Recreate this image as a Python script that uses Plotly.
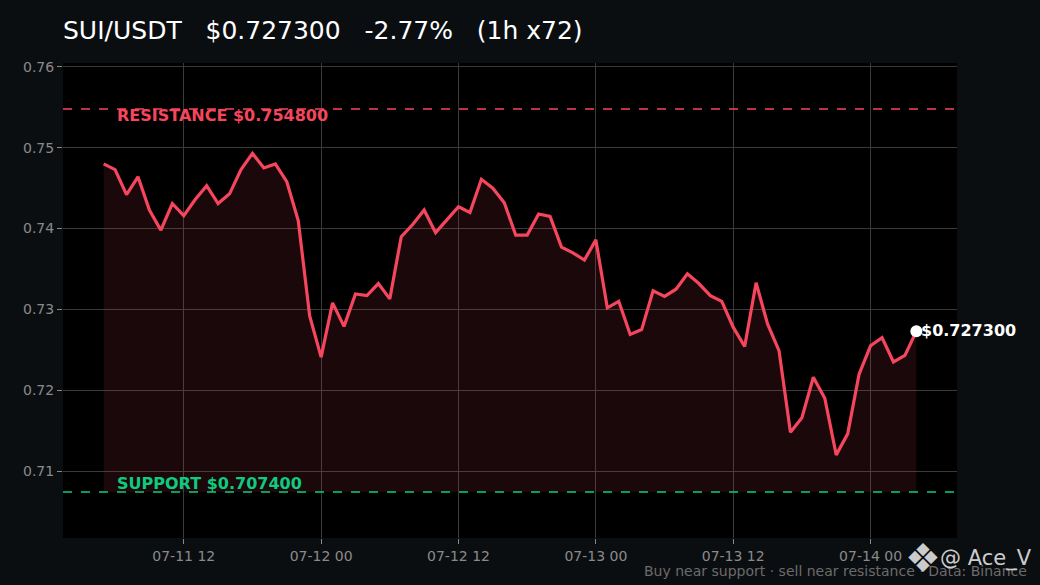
import plotly.graph_objects as go
import pandas as pd

# ---- data ----
symbol = "SUI/USDT"
interval = "1h"
start_time = "2025-07-11 05:00"
prices = [
    0.7480, 0.7473, 0.7442, 0.7464, 0.7423, 0.7398, 0.7431, 0.7416, 0.7436, 0.7453,
    0.7431, 0.7443, 0.7473, 0.7493, 0.7475, 0.7480, 0.7458, 0.7410, 0.7292, 0.7241,
    0.7308, 0.7279, 0.7319, 0.7317, 0.7332, 0.7313, 0.7390, 0.7405, 0.7423, 0.7395,
    0.7411, 0.7427, 0.7420, 0.7461, 0.7450, 0.7432, 0.7392, 0.7392, 0.7418, 0.7415,
    0.7377, 0.7370, 0.7361, 0.7386, 0.7302, 0.7310, 0.7269, 0.7275, 0.7323, 0.7316,
    0.7325, 0.7344, 0.7332, 0.7317, 0.7310, 0.7278, 0.7254, 0.7333, 0.7282, 0.7249,
    0.7148, 0.7166, 0.7216, 0.7190, 0.7120, 0.7146, 0.7220, 0.7255, 0.7265, 0.7235,
    0.7243, 0.7273,
]
resistance = 0.7548
support = 0.7074
change_pct = -2.77
footer = "Buy near support · sell near resistance · Data: Binance"
watermark_logo = "❖"
watermark_handle = "@ Ace_V"

times = pd.date_range(start=start_time, periods=len(prices), freq="h")
last_price = prices[-1]

RED = "#f6465d"
GREEN = "#0ecb81"
PAPER = "#0b0e11"

span = times[-1] - times[0]
pad_x = span * 0.05
band = resistance - support
y_range = [support - band * 0.12, resistance + band * 0.12]

fig = go.Figure()

# baseline for the fill (at support level)
fig.add_trace(go.Scatter(
    x=times, y=[support] * len(times), mode="lines",
    line=dict(width=0, color="rgba(0,0,0,0)"), hoverinfo="skip", showlegend=False,
))
fig.add_trace(go.Scatter(
    x=times, y=prices, mode="lines",
    line=dict(color=RED, width=3.2),
    fill="tonexty", fillcolor="rgba(246,70,93,0.11)",
    showlegend=False,
))
# last price marker
fig.add_trace(go.Scatter(
    x=[times[-1]], y=[last_price], mode="markers",
    marker=dict(color="white", size=12),
    showlegend=False,
))

fig.add_shape(type="line", xref="paper", x0=0, x1=1, yref="y", y0=resistance, y1=resistance,
              line=dict(color=RED, width=1.5, dash="dash"))
fig.add_shape(type="line", xref="paper", x0=0, x1=1, yref="y", y0=support, y1=support,
              line=dict(color=GREEN, width=1.5, dash="dash"))

fig.add_annotation(x=times[1], y=resistance, xref="x", yref="y",
                   text=f"<b>RESISTANCE ${resistance:.6f}</b>", showarrow=False,
                   xanchor="left", yanchor="middle", yshift=-7,
                   font=dict(color=RED, size=16, family="DejaVu Sans"))
fig.add_annotation(x=times[1], y=support, xref="x", yref="y",
                   text=f"<b>SUPPORT ${support:.6f}</b>", showarrow=False,
                   xanchor="left", yanchor="middle", yshift=9,
                   font=dict(color=GREEN, size=16, family="DejaVu Sans"))
fig.add_annotation(x=times[-1], y=last_price, xref="x", yref="y",
                   text=f"<b>${last_price:.6f}</b>", showarrow=False,
                   xanchor="left", yanchor="middle", xshift=3, yshift=1,
                   font=dict(color="white", size=16, family="DejaVu Sans"))

fig.add_annotation(xref="paper", yref="paper", x=1.0805, y=-0.0695, xanchor="right", yanchor="middle",
                   text=footer, showarrow=False,
                   font=dict(color="#6b6b6b", size=14, family="DejaVu Sans"))
fig.add_annotation(xref="paper", yref="paper", x=(922.5 - 63) / 894, y=-(558 - 538) / 475,
                   xanchor="center", yanchor="middle",
                   text=watermark_logo, showarrow=False,
                   font=dict(color="rgba(230,230,230,0.9)", size=40, family="DejaVu Sans"))
fig.add_annotation(xref="paper", yref="paper", x=(1034 - 63) / 894, y=-(558 - 538) / 475,
                   xanchor="right", yanchor="middle",
                   text=watermark_handle, showarrow=False,
                   font=dict(color="rgba(230,230,230,0.9)", size=21, family="DejaVu Sans"))

fig.update_layout(
    width=1040, height=585,
    paper_bgcolor=PAPER, plot_bgcolor="#000000",
    margin=dict(l=63, r=83, t=63, b=47),
    title=dict(
        text=f"{symbol}   ${last_price:.6f}   {change_pct:.2f}%   ({interval} x{len(prices)})",
        x=63 / 1040, xanchor="left", y=1 - 30 / 585, yanchor="middle",
        font=dict(color="white", size=25, family="DejaVu Sans"),
    ),
    font=dict(family="DejaVu Sans", color="#8a8a8a", size=14),
    showlegend=False,
)
fig.update_xaxes(
    range=[times[0] - pad_x, times[-1] + pad_x],
    tick0="2025-07-11 00:00", dtick=12 * 3600 * 1000, tickformat="%m-%d %H",
    showgrid=True, gridcolor="#3a3a3a", gridwidth=1,
    ticks="outside", ticklen=5, tickcolor="#8a8a8a",
    zeroline=False, showline=False,
    tickfont=dict(color="#8a8a8a", size=14),
)
fig.update_yaxes(
    range=y_range, dtick=0.01, tickformat=".2f",
    showgrid=True, gridcolor="#3a3a3a", gridwidth=1,
    ticks="outside", ticklen=5, tickcolor="#8a8a8a",
    zeroline=False, showline=False,
    tickfont=dict(color="#8a8a8a", size=14),
)

fig.write_html("out.html", config={"displayModeBar": False},
               post_script="document.body.style.margin='0';document.body.style.background='#0b0e11';")
